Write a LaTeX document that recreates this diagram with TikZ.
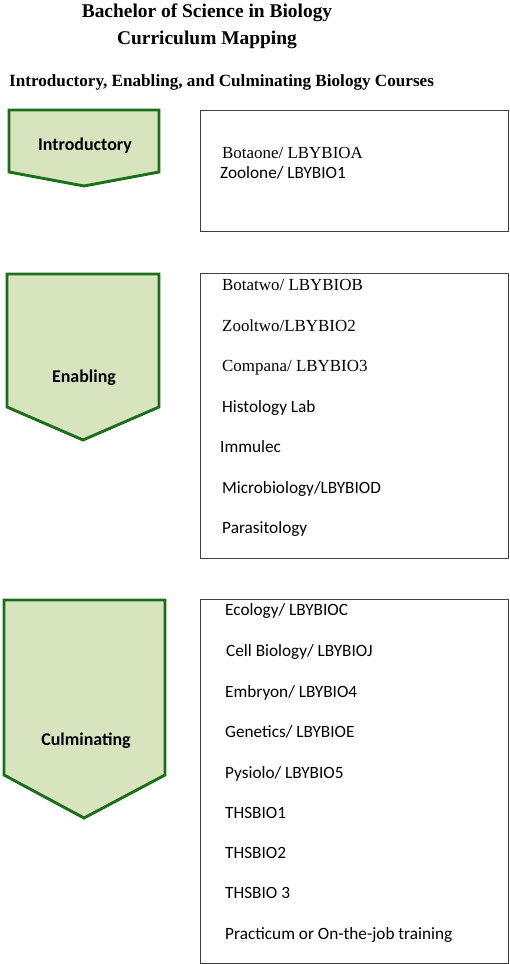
\documentclass[tikz,border=0pt]{standalone}
\usepackage{fontspec}
\setmainfont{Liberation Serif}
\newfontfamily\carlitofont{Carlito}
\definecolor{chevfill}{HTML}{D7E4BD}
\definecolor{chevline}{HTML}{1A701A}
\definecolor{boxline}{HTML}{404040}
\begin{document}
\begin{tikzpicture}[x=1bp,y=-1bp,
  chev/.style={fill=chevfill,draw=chevline,line width=2.9bp,line join=miter},
  listbox/.style={draw=boxline,line width=1bp},
  chevlabel/.style={font=\carlitofont\fontsize{18}{21}\selectfont\bfseries,inner sep=0pt},
  ser/.style={font=\fontsize{17}{20}\selectfont,anchor=base west,inner sep=0pt},
  san/.style={font=\carlitofont\fontsize{17.3}{20}\selectfont,anchor=base west,inner sep=0pt},
  ttl/.style={font=\fontsize{19.5}{23}\selectfont\bfseries,inner sep=0pt,anchor=base}]
\useasboundingbox (0,0) rectangle (510,964);
% titles
\node[ttl] (t1) at (207,17) {Bachelor of Science in Biology};
\node[ttl] (t2) at (207,44) {Curriculum Mapping};
\node[font=\fontsize{17.2}{20}\selectfont\bfseries,inner sep=0pt,anchor=base west] (t3) at (9,86) {Introductory, Enabling, and Culminating Biology Courses};
% chevrons
\draw[chev] (9,110) -- (159,110) -- (159,172) -- (84,186) -- (9,172) -- cycle;
\draw[chev] (7,274) -- (159,274) -- (159,407) -- (83,440) -- (7,407) -- cycle;
\draw[chev] (4,600) -- (165,600) -- (165,775) -- (84,818) -- (4,775) -- cycle;
\node[chevlabel] (lab1) at (85,146) {Introductory};
\node[chevlabel] (lab2) at (84,378) {Enabling};
\node[chevlabel] (lab3) at (86,741) {Culminating};
% boxes
\node[listbox,minimum width=308bp,minimum height=121bp,anchor=north west,inner sep=0pt] (b1) at (200,110) {};
\node[listbox,minimum width=308bp,minimum height=285bp,anchor=north west,inner sep=0pt] (b2) at (200,273) {};
\node[listbox,minimum width=308bp,minimum height=364bp,anchor=north west,inner sep=0pt] (b3) at (200,599) {};
% box 1
\node[ser] (c11) at (222,158) {Botaone/ LBYBIOA};
\node[san] (c12) at (220,178) {Zoolone/ LBYBIO1};
% box 2
\node[ser] (c21) at (222,290) {Botatwo/ LBYBIOB};
\node[ser] (c22) at (222,331) {Zooltwo/LBYBIO2};
\node[ser] (c23) at (222,371) {Compana/ LBYBIO3};
\node[san] (c24) at (222,412) {Histology Lab};
\node[san] (c25) at (220,452) {Immulec};
\node[san] (c26) at (222,493) {Microbiology/LBYBIOD};
\node[san] (c27) at (222,533) {Parasitology};
% box 3
\node[san] (c31) at (225,615) {Ecology/ LBYBIOC};
\node[san] (c32) at (226,656) {Cell Biology/ LBYBIOJ};
\node[san] (c33) at (225,697) {Embryon/ LBYBIO4};
\node[san] (c34) at (225,737) {Genetics/ LBYBIOE};
\node[san] (c35) at (225,778) {Pysiolo/ LBYBIO5};
\node[san] (c36) at (225,818) {THSBIO1};
\node[san] (c37) at (225,858) {THSBIO2};
\node[san] (c38) at (225,898) {THSBIO 3};
\node[san] (c39) at (225,939) {Practicum or On-the-job training};
\end{tikzpicture}
\end{document}
